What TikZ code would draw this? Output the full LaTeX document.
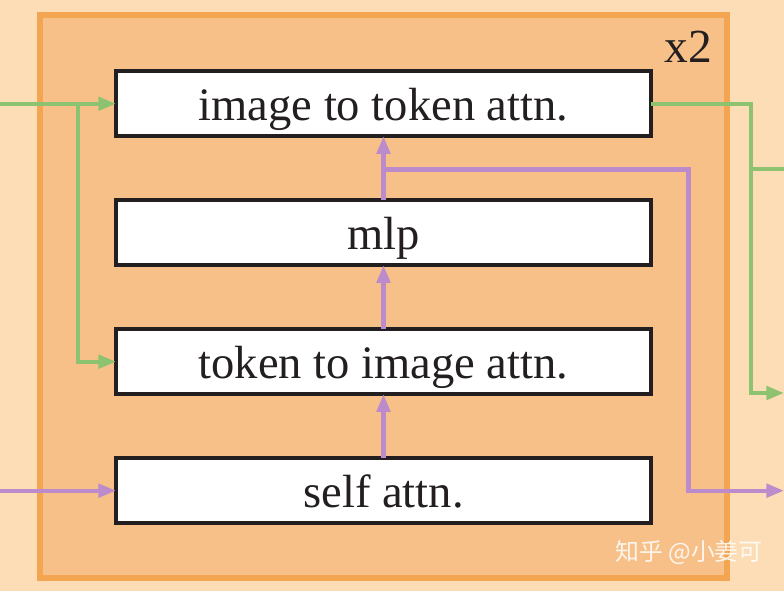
\documentclass[tikz,border=0pt]{standalone}
\usepackage{fontspec}
\setmainfont{Liberation Serif}
\newfontfamily\cjkfont{Noto Sans CJK SC}
\usetikzlibrary{positioning,arrows.meta}

\definecolor{pagebg}{HTML}{FCDDB5}
\definecolor{framefill}{HTML}{F6C088}
\definecolor{frameline}{HTML}{F3A552}
\definecolor{tokline}{HTML}{BB8BCB}
\definecolor{imgline}{HTML}{8DC370}
\definecolor{inkdark}{HTML}{231F20}

\tikzset{
    blockbox/.style={draw=inkdark, line width=2.3pt, fill=white, minimum width=10.7cm, minimum height=1.3cm, inner sep=0pt, outer sep=0pt, text=inkdark, text height=19pt, text depth=0pt, font=\fontsize{26.5}{30}\selectfont},
    tokflow/.style={tokline, line width=2.4pt, -{Triangle[length=10pt,width=7.5pt]}},
    imgflow/.style={imgline, line width=2.4pt, -{Triangle[length=10pt,width=7.5pt]}},
}

\begin{document}
\begin{tikzpicture}[x=0.02cm, y=-0.02cm]
    \useasboundingbox (0,0) rectangle (784,591);
    \fill[pagebg] (0,0) rectangle (784,591);
    \draw[frameline, fill=framefill, line width=3.4pt] (40,15) rectangle (727,578);
    \node[anchor=base east, text=inkdark, font=\fontsize{27}{30}\selectfont] (reps) at (718,63) {x2};

    \node[blockbox] (imgtok) at (383.5,103.75) {image to token attn.};
    \node[blockbox, below=1.28cm of imgtok] (mlp) {mlp};
    \node[blockbox, below=1.28cm of mlp] (tokimg) {token to image attn.};
    \node[blockbox, below=1.28cm of tokimg] (selfattn) {self attn.};

    \coordinate (imgin) at (0,103.75);
    \coordinate (imgsplit) at (78,103.75);
    \coordinate (imgturn) at (751,393);
    \coordinate (imgout) at (784,393);
    \coordinate (imgtap) at (751,169);
    \coordinate (imgedge) at (784,169);
    \coordinate (tokin) at (imgin |- selfattn.west);
    \coordinate (toksplit) at (383.5,169.5);
    \coordinate (tokturn) at (688.5,0 |- selfattn.east);
    \coordinate (tokout) at (imgout |- selfattn.east);

    \draw[imgflow] (imgin) -- (imgtok);
    \draw[imgflow] (imgsplit) |- (tokimg);
    \draw[imgflow] (imgtok) -| (imgturn) -- (imgout);
    \draw[imgline, line width=2.4pt] (imgtap) -- (imgedge);

    \draw[tokflow] (tokin) -- (selfattn);
    \draw[tokflow] (selfattn) -- (tokimg);
    \draw[tokflow] (tokimg) -- (mlp);
    \draw[tokflow] (mlp) -- (imgtok);
    \draw[tokflow] (toksplit) -| (tokturn) -- (tokout);

    \node[text=white, opacity=0.85, font=\cjkfont\fontsize{13.6}{15}\selectfont] (watermark) at (689,552) {知乎 @小姜可};
\end{tikzpicture}
\end{document}
